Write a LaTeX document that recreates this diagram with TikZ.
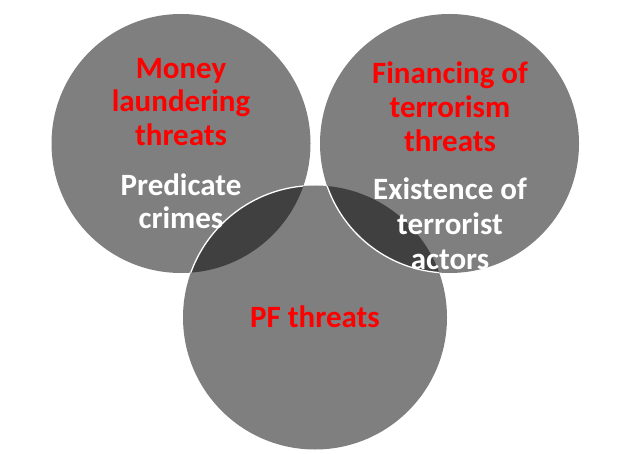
\documentclass[tikz,border=0pt]{standalone}
\usepackage{fontspec}
\setmainfont{Carlito}
\definecolor{circgray}{HTML}{7F7F7F}
\definecolor{overlapgray}{HTML}{404040}
\begin{document}
\begin{tikzpicture}[x=1pt,y=-1pt,
  ring/.style={fill=circgray},
  ovl/.style={fill=overlapgray},
  rim/.style={draw=white, line width=1.3pt},
  redtxt/.style={text=red, font=\fontsize{31}{33.5}\selectfont\bfseries, align=center, inner sep=0pt},
  whitetxt/.style={text=white, font=\fontsize{31}{33.5}\selectfont\bfseries, align=center, inner sep=0pt}]
\useasboundingbox (0,0) rectangle (628,454);
\coordinate (cL) at (181,143.5);
\coordinate (cR) at (449.5,143.5);
\coordinate (cB) at (315,317.5);
\def\rL{129.5pt}
\def\rB{132pt}
% circles
\path[ring] (cL) circle[radius=\rL];
\path[ring] (cR) circle[radius=\rL];
\path[ring] (cB) circle[radius=\rB];
% overlaps
\begin{scope}
  \clip (cL) circle[radius=\rL];
  \path[ovl] (cB) circle[radius=\rB];
  \path[rim] (cB) circle[radius=\rB];
\end{scope}
\begin{scope}
  \clip (cR) circle[radius=\rL];
  \path[ovl] (cB) circle[radius=\rB];
\end{scope}
\begin{scope}
  \clip (cB) circle[radius=\rB];
  \path[rim] (cR) circle[radius=\rL];
\end{scope}
% texts
\node[redtxt] (ml) at (181,102) {Money\\laundering\\threats};
\node[whitetxt] (pc) at (181,201) {Predicate\\crimes};
\node[redtxt, font=\fontsize{31}{34}\selectfont\bfseries] (ft) at (450,107) {Financing of\\terrorism\\threats};
\node[whitetxt, font=\fontsize{31}{35}\selectfont\bfseries] (ex) at (450,224) {Existence of\\terrorist\\actors};
\node[redtxt] (pf) at (315,317) {PF threats};
\end{tikzpicture}
\end{document}
